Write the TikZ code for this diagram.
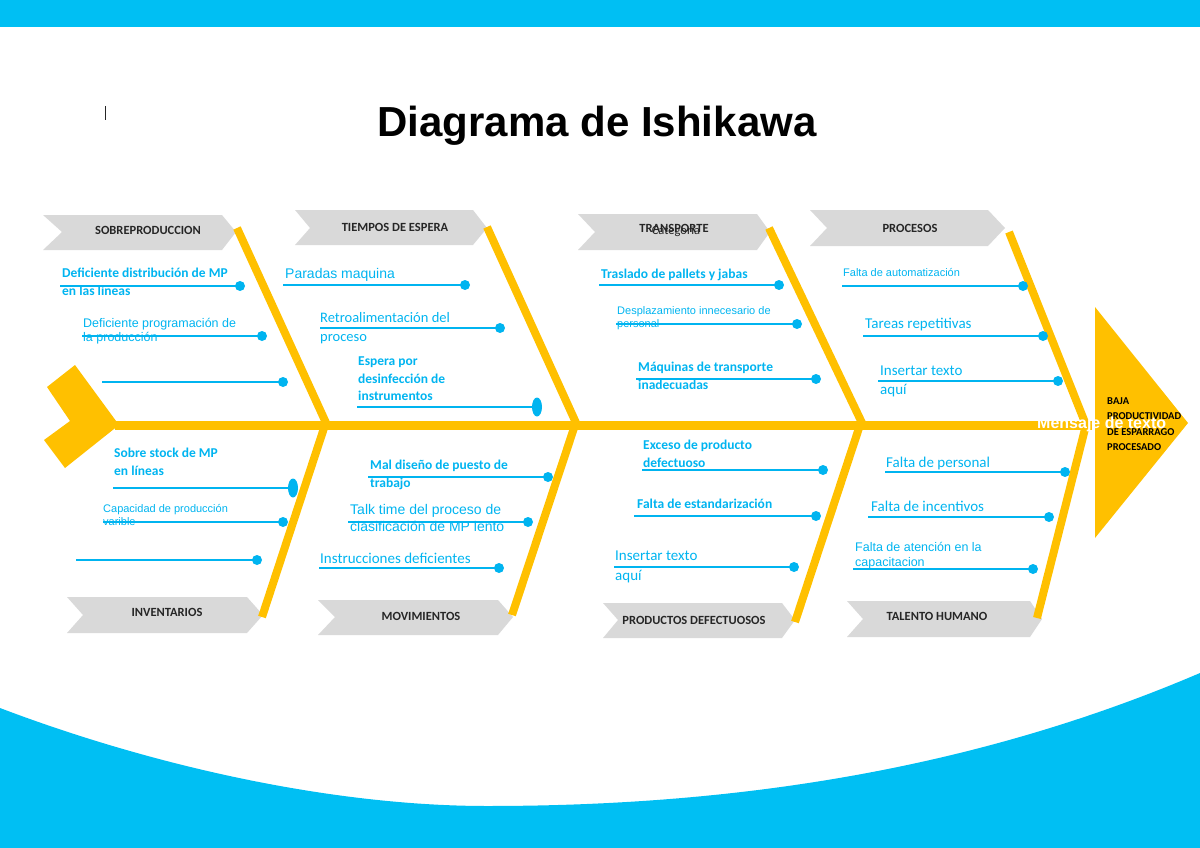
\documentclass[tikz,border=0pt]{standalone}
\usepackage{fontspec}
\setmainfont{Liberation Sans}
\newfontfamily\carlito{Carlito}
\usetikzlibrary{shapes.geometric}
\definecolor{cband}{HTML}{00BFF3}
\definecolor{cblue}{HTML}{00B4F0}
\definecolor{ybone}{HTML}{FFC000}
\definecolor{cgray}{HTML}{D9D9D9}
\definecolor{cdark}{HTML}{262626}
\tikzset{
  bonestyle/.style={draw=ybone, line width=8pt, line cap=butt},
  cline/.style={draw=cblue, line width=2.2pt},
  cdot/.style={circle, fill=cblue, inner sep=0pt, minimum size=10pt},
  cdotlong/.style={ellipse, fill=cblue, inner sep=0pt, minimum width=10pt, minimum height=19pt},
  catbox/.style={fill=cgray, draw=none},
  cattext/.style={font=\carlito\bfseries\fontsize{12.5}{14}\selectfont, text=cdark, inner sep=0pt, anchor=base},
  ctbold/.style={font=\carlito\bfseries\fontsize{13.5}{15}\selectfont, text=cblue, inner sep=0pt, anchor=base west},
  ctreg/.style={font=\carlito\fontsize{15}{17}\selectfont, text=cblue, inner sep=0pt, anchor=base west},
  carial/.style={font=\fontsize{14}{16}\selectfont, text=cblue, inner sep=0pt, anchor=base west},
  csmall/.style={font=\fontsize{11}{13}\selectfont, text=cblue, inner sep=0pt, anchor=base west},
  cmed/.style={font=\fontsize{12.5}{14}\selectfont, text=cblue, inner sep=0pt, anchor=base west},
  headtext/.style={font=\carlito\bfseries\fontsize{10.5}{12}\selectfont, text=black, inner sep=0pt, anchor=base west},
}
\begin{document}
\begin{tikzpicture}[x=1pt,y=-1pt]
\useasboundingbox (0,0) rectangle (1200,848);
% background decorations
\fill[cband] (0,0) rectangle (1200,27);
\fill[cband] (0,708) .. controls (150,765) and (330,806) .. (487,806)
  .. controls (700,806) and (950,780) .. (1200,673) -- (1200,848) -- (0,848) -- cycle;
\draw[cdark, line width=0.8pt] (105,106) -- (105,120);
% title
\node[font=\bfseries\fontsize{42}{48}\selectfont, inner sep=0pt, anchor=base] (title) at (597,137) {Diagrama de Ishikawa};

% category ribbons
\fill[catbox] (43,215) -- (222,215) -- (236,232) -- (222,250) -- (43,250) -- (62,232) -- cycle;
\fill[catbox] (295,210) -- (473,210) -- (487,228) -- (473,245) -- (295,245) -- (310,228) -- cycle;
\fill[catbox] (578,214) -- (757,214) -- (770,232) -- (757,250) -- (578,250) -- (595,232) -- cycle;
\fill[catbox] (810,210) -- (988,210) -- (1005,228) -- (988,246) -- (810,246) -- (827,228) -- cycle;
\fill[catbox] (67,597) -- (247,597) -- (263,615) -- (247,633) -- (67,633) -- (83,615) -- cycle;
\fill[catbox] (318,600) -- (498,600) -- (513,617) -- (498,635) -- (318,635) -- (335,617) -- cycle;
\fill[catbox] (603,603) -- (782,603) -- (795,620) -- (782,638) -- (603,638) -- (618,620) -- cycle;
\fill[catbox] (847,601) -- (1030,601) -- (1042,619) -- (1030,637) -- (847,637) -- (863,619) -- cycle;
\node[cattext] (c1) at (148,234) {SOBREPRODUCCION};
\node[cattext] (c2) at (395,231) {TIEMPOS DE ESPERA};
\node[cattext] (c3) at (674,233) {TRANSPORTE};
\node[font=\carlito\fontsize{12.5}{14}\selectfont, text=cdark, inner sep=0pt, anchor=base] (c3b) at (676,234) {Categoría};
\node[cattext] (c4) at (910,232) {PROCESOS};
\node[cattext] (c5) at (167,616) {INVENTARIOS};
\node[cattext] (c6) at (421,620) {MOVIMIENTOS};
\node[cattext] (c7) at (694,624) {PRODUCTOS DEFECTUOSOS};
\node[cattext] (c8) at (937,620) {TALENTO HUMANO};

% head
\fill[ybone] (1095,307) -- (1188,423) -- (1095,538) -- cycle;
% tail
\fill[ybone] (75,365) -- (119,425) -- (65,468) -- (44,440) -- (70,421) -- (47,387) -- cycle;
% spine
\coordinate (tail) at (115,425);
\coordinate (head) at (1092,425);
\draw[draw=ybone, line width=9pt] (tail) -- (head);
% bones
\coordinate (u1a) at (237,228); \coordinate (u1b) at (327,425);
\coordinate (u2a) at (487,227); \coordinate (u2b) at (577,425);
\coordinate (u3a) at (769,228); \coordinate (u3b) at (863,425);
\coordinate (u4a) at (1009,232); \coordinate (u4b) at (1086,425);
\coordinate (l1a) at (325,425); \coordinate (l1b) at (262,617);
\coordinate (l2a) at (575,425); \coordinate (l2b) at (512,615);
\coordinate (l3a) at (860,425); \coordinate (l3b) at (795,622);
\coordinate (l4a) at (1086,425); \coordinate (l4b) at (1037,618);
\foreach \p in {u1,u2,u3,u4,l1,l2,l3,l4} \draw[bonestyle] (\p a) -- (\p b);

% ---------- upper group 1
\node[ctbold] (t11) at (62,277) {Deficiente distribución de MP};
\node[ctbold] (t11b) at (62,295) {en las líneas};
\coordinate (s11) at (60,286); \node[cdot] (d11) at (240,286) {};
\draw[cline] (s11) -- (d11.center);
\node[cmed] (t12) at (83,327) {Deficiente programación de};
\node[cmed] (t12b) at (83,341) {la producción};
\coordinate (s12) at (82,336); \node[cdot] (d12) at (262,336) {};
\draw[cline] (s12) -- (d12.center);
\coordinate (s13) at (102,382); \node[cdot] (d13) at (283,382) {};
\draw[cline] (s13) -- (d13.center);

% ---------- upper group 2
\node[carial] (t21) at (285,278) {Paradas maquina};
\coordinate (s21) at (283,285); \node[cdot] (d21) at (465,285) {};
\draw[cline] (s21) -- (d21.center);
\node[ctreg, font=\carlito\fontsize{14.5}{16}\selectfont] (t22) at (320,322) {Retroalimentación del};
\node[ctreg, font=\carlito\fontsize{14.5}{16}\selectfont] (t22b) at (320,341) {proceso};
\coordinate (s22) at (320,328); \node[cdot] (d22) at (500,328) {};
\draw[cline] (s22) -- (d22.center);
\node[ctbold] (t23) at (358,365) {Espera por};
\node[ctbold] (t23b) at (358,383) {desinfección de};
\node[ctbold] (t23c) at (358,400) {instrumentos};
\coordinate (s23) at (357,407); \node[cdotlong] (d23) at (537,407) {};
\draw[cline] (s23) -- (d23.center);

% ---------- upper group 3
\node[ctbold] (t31) at (601,278) {Traslado de pallets y jabas};
\coordinate (s31) at (599,285); \node[cdot] (d31) at (779,285) {};
\draw[cline] (s31) -- (d31.center);
\node[csmall] (t32) at (617,314) {Desplazamiento innecesario de};
\node[csmall] (t32b) at (617,327) {personal};
\coordinate (s32) at (616,324); \node[cdot] (d32) at (797,324) {};
\draw[cline] (s32) -- (d32.center);
\node[ctbold] (t33) at (638,371) {Máquinas de transporte};
\node[ctbold] (t33b) at (638,389) {inadecuadas};
\coordinate (s33) at (636,379); \node[cdot] (d33) at (816,379) {};
\draw[cline] (s33) -- (d33.center);

% ---------- upper group 4
\node[csmall] (t41) at (843,276) {Falta de automatización};
\coordinate (s41) at (842,286); \node[cdot] (d41) at (1023,286) {};
\draw[cline] (s41) -- (d41.center);
\node[ctreg] (t42) at (865,328) {Tareas repetitivas};
\coordinate (s42) at (863,336); \node[cdot] (d42) at (1043,336) {};
\draw[cline] (s42) -- (d42.center);
\node[ctreg] (t43) at (880,375) {Insertar texto};
\node[ctreg] (t43b) at (880,394) {aquí};
\coordinate (s43) at (878,381); \node[cdot] (d43) at (1058,381) {};
\draw[cline] (s43) -- (d43.center);

% ---------- lower group 1
\node[ctbold] (t51) at (114,457) {Sobre stock de MP};
\node[ctbold] (t51b) at (114,475) {en líneas};
\coordinate (s51) at (113,488); \node[cdotlong] (d51) at (293,488) {};
\draw[cline] (s51) -- (d51.center);
\node[csmall] (t52) at (103,512) {Capacidad de producción};
\node[csmall] (t52b) at (103,525) {varible};
\coordinate (s52) at (103,522); \node[cdot] (d52) at (283,522) {};
\draw[cline] (s52) -- (d52.center);
\coordinate (s53) at (76,560); \node[cdot] (d53) at (257,560) {};
\draw[cline] (s53) -- (d53.center);

% ---------- lower group 2
\node[ctbold] (t61) at (370,469) {Mal diseño de puesto de};
\node[ctbold] (t61b) at (370,487) {trabajo};
\coordinate (s61) at (368,477); \node[cdot] (d61) at (548,477) {};
\draw[cline] (s61) -- (d61.center);
\node[carial] (t62) at (350,514) {Talk time del proceso de};
\node[carial] (t62b) at (350,531) {clasificación de MP lento};
\coordinate (s62) at (348,522); \node[cdot] (d62) at (528,522) {};
\draw[cline] (s62) -- (d62.center);
\node[ctreg] (t63) at (320,563) {Instrucciones deficientes};
\coordinate (s63) at (319,568); \node[cdot] (d63) at (499,568) {};
\draw[cline] (s63) -- (d63.center);

% ---------- lower group 3
\node[ctbold] (t71) at (643,449) {Exceso de producto};
\node[ctbold] (t71b) at (643,467) {defectuoso};
\coordinate (s71) at (642,470); \node[cdot] (d71) at (823,470) {};
\draw[cline] (s71) -- (d71.center);
\node[ctbold] (t72) at (637,508) {Falta de estandarización};
\coordinate (s72) at (634,516); \node[cdot] (d72) at (816,516) {};
\draw[cline] (s72) -- (d72.center);
\node[ctreg] (t73) at (615,560) {Insertar texto};
\node[ctreg] (t73b) at (615,580) {aquí};
\coordinate (s73) at (614,567); \node[cdot] (d73) at (794,567) {};
\draw[cline] (s73) -- (d73.center);

% ---------- lower group 4
\node[ctreg] (t81) at (886,467) {Falta de personal};
\coordinate (s81) at (885,472); \node[cdot] (d81) at (1065,472) {};
\draw[cline] (s81) -- (d81.center);
\node[ctreg] (t82) at (871,511) {Falta de incentivos};
\coordinate (s82) at (868,517); \node[cdot] (d82) at (1049,517) {};
\draw[cline] (s82) -- (d82.center);
\node[cmed] (t83) at (855,551) {Falta de atención en la};
\node[cmed] (t83b) at (855,566) {capacitacion};
\coordinate (s83) at (853,569); \node[cdot] (d83) at (1033,569) {};
\draw[cline] (s83) -- (d83.center);

% head texts
\node[font=\bfseries\fontsize{16}{18}\selectfont, text=white, inner sep=0pt, anchor=base west] (msg) at (1037,428) {Mensaje de texto};
\node[headtext] (h1) at (1107,404) {BAJA};
\node[headtext] (h2) at (1107,419) {PRODUCTIVIDAD};
\node[headtext] (h3) at (1107,435) {DE ESPARRAGO};
\node[headtext] (h4) at (1107,450) {PROCESADO};
\end{tikzpicture}
\end{document}
